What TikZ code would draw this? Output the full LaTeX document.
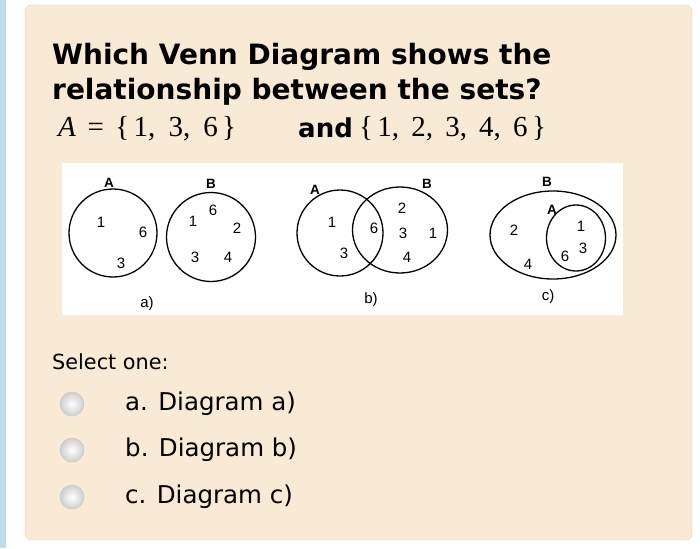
\documentclass[tikz,border=0pt]{standalone}
\usepackage{fontspec}
\setmainfont{DejaVu Sans}
\newfontfamily\timesfont{Liberation Serif}
\newfontfamily\arialfont{Liberation Sans}
\usepackage{tikz}
\usetikzlibrary{shapes.geometric,positioning}
\usepackage{xcolor}
\definecolor{panelfill}{HTML}{F9EAD5}
\definecolor{panelline}{HTML}{E6D8C2}
\definecolor{bluestrip}{HTML}{BCDDE8}

\begin{document}
\begin{tikzpicture}[
    x=1pt, y=-1pt,
    title/.style={font=\fontsize{28}{32}\selectfont\bfseries, anchor=west, inner sep=0pt},
    setmath/.style={font=\timesfont\fontsize{29}{33}\selectfont, anchor=west, inner sep=0pt},
    venn/.style={draw, line width=1.3pt, inner sep=0pt},
    elem/.style={font=\arialfont\fontsize{15}{17}\selectfont, inner sep=0pt},
    setlabel/.style={font=\arialfont\bfseries\fontsize{13.5}{15}\selectfont, inner sep=0pt},
    radio/.style={circle, draw=gray!45, inner color=white, outer color=gray!38, minimum size=24pt},
    choice/.style={font=\fontsize{24.5}{28}\selectfont, anchor=west, inner sep=0pt}
]
    \useasboundingbox (0,0) rectangle (700,548);

    % Fond
    \fill[bluestrip] (0,0) rectangle (6,548);
    \draw[panelline, fill=panelfill, rounded corners=6pt] (25,5) rectangle (692,540);
    \fill[white] (62,163) rectangle (623,315);

    % Question
    \node[title] (q1) at (52,57) {Which Venn Diagram shows the};
    \node[title] (q2) at (52,92) {relationship between the sets?};
    \node[setmath] (setA) at (58,129) {{\itshape A}\hspace{0.4em}=\hspace{0.4em}\{\hspace{0.15em}1,\hspace{0.45em}3,\hspace{0.45em}6\hspace{0.15em}\}};
    \node[title, font=\fontsize{26}{30}\selectfont\bfseries] (and) at (298,128) {and};
    \node[setmath] (setB) at (359,129) {\{\hspace{0.15em}1,\hspace{0.42em}2,\hspace{0.42em}3,\hspace{0.42em}4,\hspace{0.42em}6\hspace{0.15em}\}};

    % Diagramme a)
    \node[venn, circle, minimum size=88pt] (Aa) at (113,233) {};
    \node[venn, circle, minimum size=89pt] (Ba) at (211,237) {};
    \node[setlabel] (labAa) at (109,183) {A};
    \node[setlabel] (labBa) at (211,184) {B};
    \node[elem] at (101,222) {1};
    \node[elem] at (143,232) {6};
    \node[elem] at (121,263) {3};
    \node[elem] at (213,210) {6};
    \node[elem] at (193,221) {1};
    \node[elem] at (237,228) {2};
    \node[elem] at (195,257) {3};
    \node[elem] at (228,257) {4};
    \node[elem] (capa) at (147,304) {a)};

    % Diagramme b)
    \node[venn, circle, minimum size=86pt] (Ab) at (340,233) {};
    \node[venn, ellipse, minimum width=95pt, minimum height=86pt] (Bb) at (400,230) {};
    \node[setlabel] (labAb) at (315,190) {A};
    \node[setlabel] (labBb) at (427,184) {B};
    \node[elem] at (332,222) {1};
    \node[elem] at (344,253) {3};
    \node[elem] at (374,228) {6};
    \node[elem] at (402,208) {2};
    \node[elem] at (403,233) {3};
    \node[elem] at (407,257) {4};
    \node[elem] at (433,233) {1};
    \node[elem] (capb) at (371,300) {b)};

    % Diagramme c)
    \node[venn, ellipse, minimum width=126pt, minimum height=88pt] (Bc) at (553,235) {};
    \node[venn, ellipse, minimum width=59pt, minimum height=66pt] (Ac) at (576,238) {};
    \node[setlabel] (labBc) at (547,182) {B};
    \node[setlabel] (labAc) at (552,210) {A};
    \node[elem] at (514,230) {2};
    \node[elem] at (528,264) {4};
    \node[elem] at (581,226) {1};
    \node[elem] at (583,248) {3};
    \node[elem] at (565,256) {6};
    \node[elem] (capc) at (548,297) {c)};

    % Choix
    \node[font=\fontsize{20.8}{24}\selectfont, anchor=west, inner sep=0pt] (select) at (52,362) {Select one:};
    \foreach \y/\l in {404/a, 450/b, 497/c} {
        \node[radio] (radio\l) at (72,\y) {};
        \node[choice] (opt\l) at (125,\y) {\l. Diagram \l)};
    }
\end{tikzpicture}
\end{document}
